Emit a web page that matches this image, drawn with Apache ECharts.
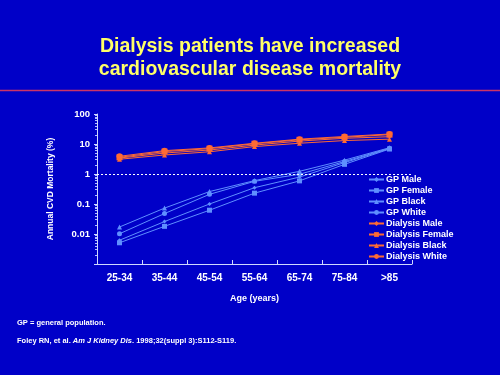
<!DOCTYPE html>
<html>
<head>
<meta charset="utf-8">
<script src="https://cdn.jsdelivr.net/npm/echarts@6/dist/echarts.min.js"></script>
<style>
  html, body { margin: 0; padding: 0; background: #0000c8; }
  #chart { width: 500px; height: 375px; }
</style>
</head>
<body>
<div id="chart"></div>
<script>
// 年龄组
const ageGroups = ['25-34', '35-44', '45-54', '55-64', '65-74', '75-84', '>85']
// 一般人群
const gpMale = [0.0062, 0.026, 0.10, 0.35, 0.79, 2.4, 7.0]
const gpFemale = [0.0051, 0.018, 0.062, 0.23, 0.59, 2.1, 6.8]
const gpBlack = [0.0171, 0.073, 0.26, 0.60, 1.23, 2.9, 7.5]
const gpWhite = [0.0102, 0.048, 0.21, 0.57, 0.98, 2.6, 7.2]
// 透析人群
const dialysisMale = [3.4, 5.0, 6.3, 9.2, 12.5, 15.5, 17.5]
const dialysisFemale = [3.6, 5.6, 7.0, 10.2, 13.8, 16.8, 20.5]
const dialysisBlack = [3.1, 4.3, 5.5, 8.2, 10.6, 13.0, 14.5]
const dialysisWhite = [3.9, 6.0, 7.4, 10.6, 14.5, 17.8, 21.5]
const yTicks = [0.01, 0.1, 1, 10, 100]

const FONT = 'Liberation Sans, Arial, sans-serif'
const GP_COLOR = '#5f8fff'
const DIA_COLOR = '#ff6a33'

function makeSeries(name, data, color, symbol, size) {
  return {
    name,
    type: 'line',
    data,
    symbol,
    symbolSize: size,
    lineStyle: { color, width: 1 },
    itemStyle: { color },
    animation: false
  }
}

const series = [
  makeSeries('GP Male', gpMale, GP_COLOR, 'diamond', 4),
  makeSeries('GP Female', gpFemale, GP_COLOR, 'rect', 5),
  makeSeries('GP Black', gpBlack, GP_COLOR, 'triangle', 5),
  makeSeries('GP White', gpWhite, GP_COLOR, 'circle', 5),
  makeSeries('Dialysis Male', dialysisMale, DIA_COLOR, 'diamond', 4),
  makeSeries('Dialysis Female', dialysisFemale, DIA_COLOR, 'rect', 6),
  makeSeries('Dialysis Black', dialysisBlack, DIA_COLOR, 'triangle', 5),
  makeSeries('Dialysis White', dialysisWhite, DIA_COLOR, 'circle', 6)
]
// 1% 虚线参考线
series[0].markLine = {
  silent: true,
  symbol: 'none',
  label: { show: false },
  lineStyle: { color: '#ffffff', type: [2, 2], width: 1 },
  data: [{ yAxis: 1 }]
}

const chart = echarts.init(document.getElementById('chart'))
chart.setOption({
  backgroundColor: '#0000c8',
  animation: false,
  textStyle: { fontFamily: FONT },
  title: {
    text: 'Dialysis patients have increased\ncardiovascular disease mortality',
    left: 'center',
    top: 30,
    textStyle: { color: '#ffff66', fontSize: 19.5, fontWeight: 'bold', lineHeight: 23, fontFamily: FONT }
  },
  legend: {
    orient: 'vertical',
    left: 368,
    top: 175,
    padding: 0,
    itemWidth: 15,
    itemHeight: 6,
    itemGap: 2,
    textStyle: { color: '#ffffff', fontSize: 9, fontWeight: 'bold', fontFamily: FONT, padding: [0, 0, 0, -3] },
    data: series.map(s => s.name)
  },
  grid: { left: 97, right: 88, top: 114, bottom: 111 },
  xAxis: {
    type: 'category',
    data: ageGroups,
    name: 'Age (years)',
    nameLocation: 'middle',
    nameGap: 30,
    nameTextStyle: { color: '#ffffff', fontSize: 9, fontWeight: 'bold' },
    axisLine: { lineStyle: { color: '#d0d8ff', width: 1 } },
    axisTick: { show: true, inside: true, length: 4, lineStyle: { color: '#d0d8ff' } },
    axisLabel: { color: '#ffffff', fontSize: 10, fontWeight: 'bold', margin: 9 },
    splitLine: { show: false }
  },
  yAxis: {
    type: 'log',
    logBase: 10,
    min: 0.001,
    max: 100,
    name: 'Annual CVD Mortality (%)',
    nameLocation: 'middle',
    nameGap: 42,
    nameRotate: 90,
    nameTextStyle: { color: '#ffffff', fontSize: 8.5, fontWeight: 'bold' },
    axisLine: { show: true, lineStyle: { color: '#d0d8ff', width: 1 } },
    axisTick: { show: true, length: 3, lineStyle: { color: '#d0d8ff' } },
    minorTick: { show: true, splitNumber: 9, length: 2, lineStyle: { color: '#b0bcff' } },
    axisLabel: {
      color: '#ffffff',
      fontSize: 9.5,
      fontWeight: 'bold',
      margin: 7,
      formatter: v => {
        const hit = yTicks.find(t => Math.abs(t - v) / t < 1e-6)
        return hit === undefined ? '' : String(hit)
      }
    },
    splitLine: { show: false }
  },
  graphic: [
    {
      type: 'line',
      shape: { x1: 0, y1: 90.5, x2: 500, y2: 90.5 },
      style: { stroke: '#cc3366', lineWidth: 1.5 }
    },
    {
      type: 'text',
      left: 17,
      top: 319,
      style: { text: 'GP = general population.', fill: '#ffffff', font: 'bold 7.5px ' + FONT }
    },
    {
      type: 'text',
      left: 17,
      top: 337,
      style: {
        text: '{n|Foley RN, et al. }{i|Am J Kidney Dis}{n|. 1998;32(suppl 3):S112-S119.}',
        rich: {
          n: { fill: '#ffffff', font: 'bold 7.5px ' + FONT },
          i: { fill: '#ffffff', font: 'italic bold 7.5px ' + FONT }
        }
      }
    }
  ],
  series
})
</script>
</body>
</html>
